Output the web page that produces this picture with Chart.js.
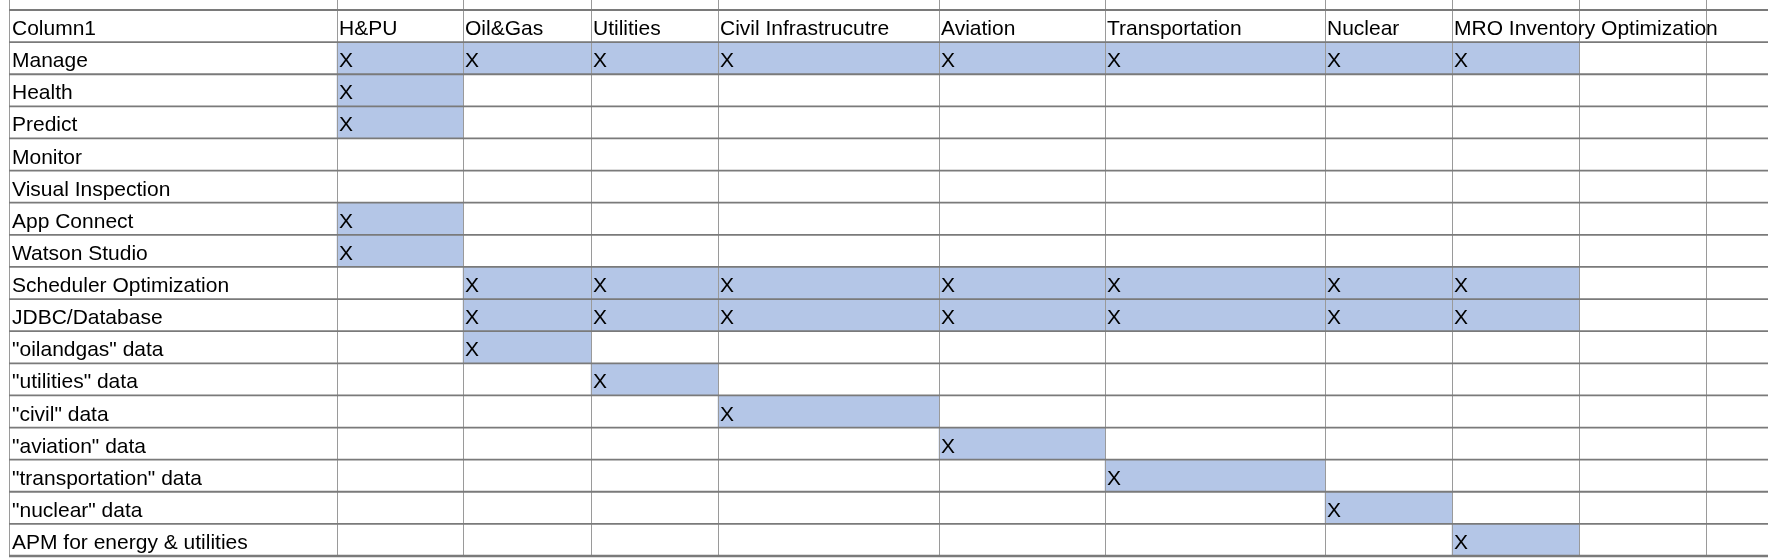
<!DOCTYPE html>
<html><head><meta charset="utf-8">
<script src="https://cdn.jsdelivr.net/npm/chart.js@4"></script>
<style>html,body{margin:0;padding:0;background:#fff}#w{width:1768px;height:558px}</style>
</head><body><div id="w"><canvas id="c"></canvas></div>
<script>
const headerLabel = "Column1";
const columns = ["H&PU","Oil&Gas","Utilities","Civil Infrastrucutre","Aviation","Transportation","Nuclear","MRO Inventory Optimization"];
const rows = ["Manage","Health","Predict","Monitor","Visual Inspection","App Connect","Watson Studio","Scheduler Optimization","JDBC/Database","\"oilandgas\" data","\"utilities\" data","\"civil\" data","\"aviation\" data","\"transportation\" data","\"nuclear\" data","APM for energy & utilities"];
const marks = [
  [0,1,2,3,4,5,6,7],[0],[0],[],[],[0],[0],
  [1,2,3,4,5,6,7],[1,2,3,4,5,6,7],
  [1],[2],[3],[4],[5],[6],[7]
];
const edges = [9,337,463,591,718,939,1105,1325,1452,1579,1706,1768];

const yLabels = [headerLabel, ...rows];
const datasets = columns.map((c,ci)=>({
  label:c,
  data: rows.map((r,ri)=>marks[ri].includes(ci)?{y:r,x:[edges[ci+1],edges[ci+2]]}:null).filter(Boolean),
  backgroundColor:'#b4c6e7', borderWidth:0, grouped:false,
  barPercentage:1, categoryPercentage:1
}));

const F = '21px "Liberation Sans", Arial, sans-serif';
const sheet = {
  id:'sheet',
  beforeDatasetsDraw(ch){
    const {ctx} = ch;
    ctx.save(); ctx.fillStyle='#fff'; ctx.fillRect(0,0,ch.width,ch.height); ctx.restore();
  },
  afterDatasetsDraw(ch){
    const {ctx} = ch; const x = ch.scales.x, y = ch.scales.y;
    const half = (y.getPixelForValue(1)-y.getPixelForValue(0))/2;
    const top = y.getPixelForValue(0)-half, bot = y.getPixelForValue(yLabels.length-1)+half;
    ctx.save();
    ctx.strokeStyle='#9a9a9a'; ctx.lineWidth=1;
    edges.slice(0,-1).forEach(e=>{const px=Math.round(x.getPixelForValue(e))+0.5;ctx.beginPath();ctx.moveTo(px,0);ctx.lineTo(px,bot);ctx.stroke();});
    ctx.strokeStyle='#7a7a7a';
    for(let i=0;i<=yLabels.length;i++){
      const py = top + i*2*half;
      ctx.lineWidth = (i===yLabels.length)?2.5:1.8;
      ctx.beginPath();ctx.moveTo(x.getPixelForValue(edges[0]),py);ctx.lineTo(ch.width,py);ctx.stroke();
    }
    ctx.fillStyle='#000'; ctx.font=F; ctx.textBaseline='alphabetic';
    const x0 = x.getPixelForValue(edges[0])+3;
    yLabels.forEach((l,i)=>{ctx.fillText(l,x0,y.getPixelForValue(i)+half-7);});
    const hy = y.getPixelForValue(0)+half-7;
    columns.forEach((c,ci)=>ctx.fillText(c,x.getPixelForValue(edges[ci+1])+2,hy));
    rows.forEach((r,ri)=>marks[ri].forEach(ci=>ctx.fillText('X',x.getPixelForValue(edges[ci+1])+2,y.getPixelForValue(ri+1)+half-7)));
    ctx.restore();
  }
};

new Chart(document.getElementById('c'),{
  type:'bar',
  data:{labels:yLabels,datasets},
  options:{
    indexAxis:'y', responsive:true, maintainAspectRatio:false, animation:false,
    layout:{padding:{top:10,bottom:2,left:0,right:0}},
    plugins:{legend:{display:false},tooltip:{enabled:false}},
    scales:{
      x:{type:'linear',min:0,max:1768,display:false},
      y:{type:'category',labels:yLabels,display:false,offset:true}
    }
  },
  plugins:[sheet]
});
</script></body></html>
